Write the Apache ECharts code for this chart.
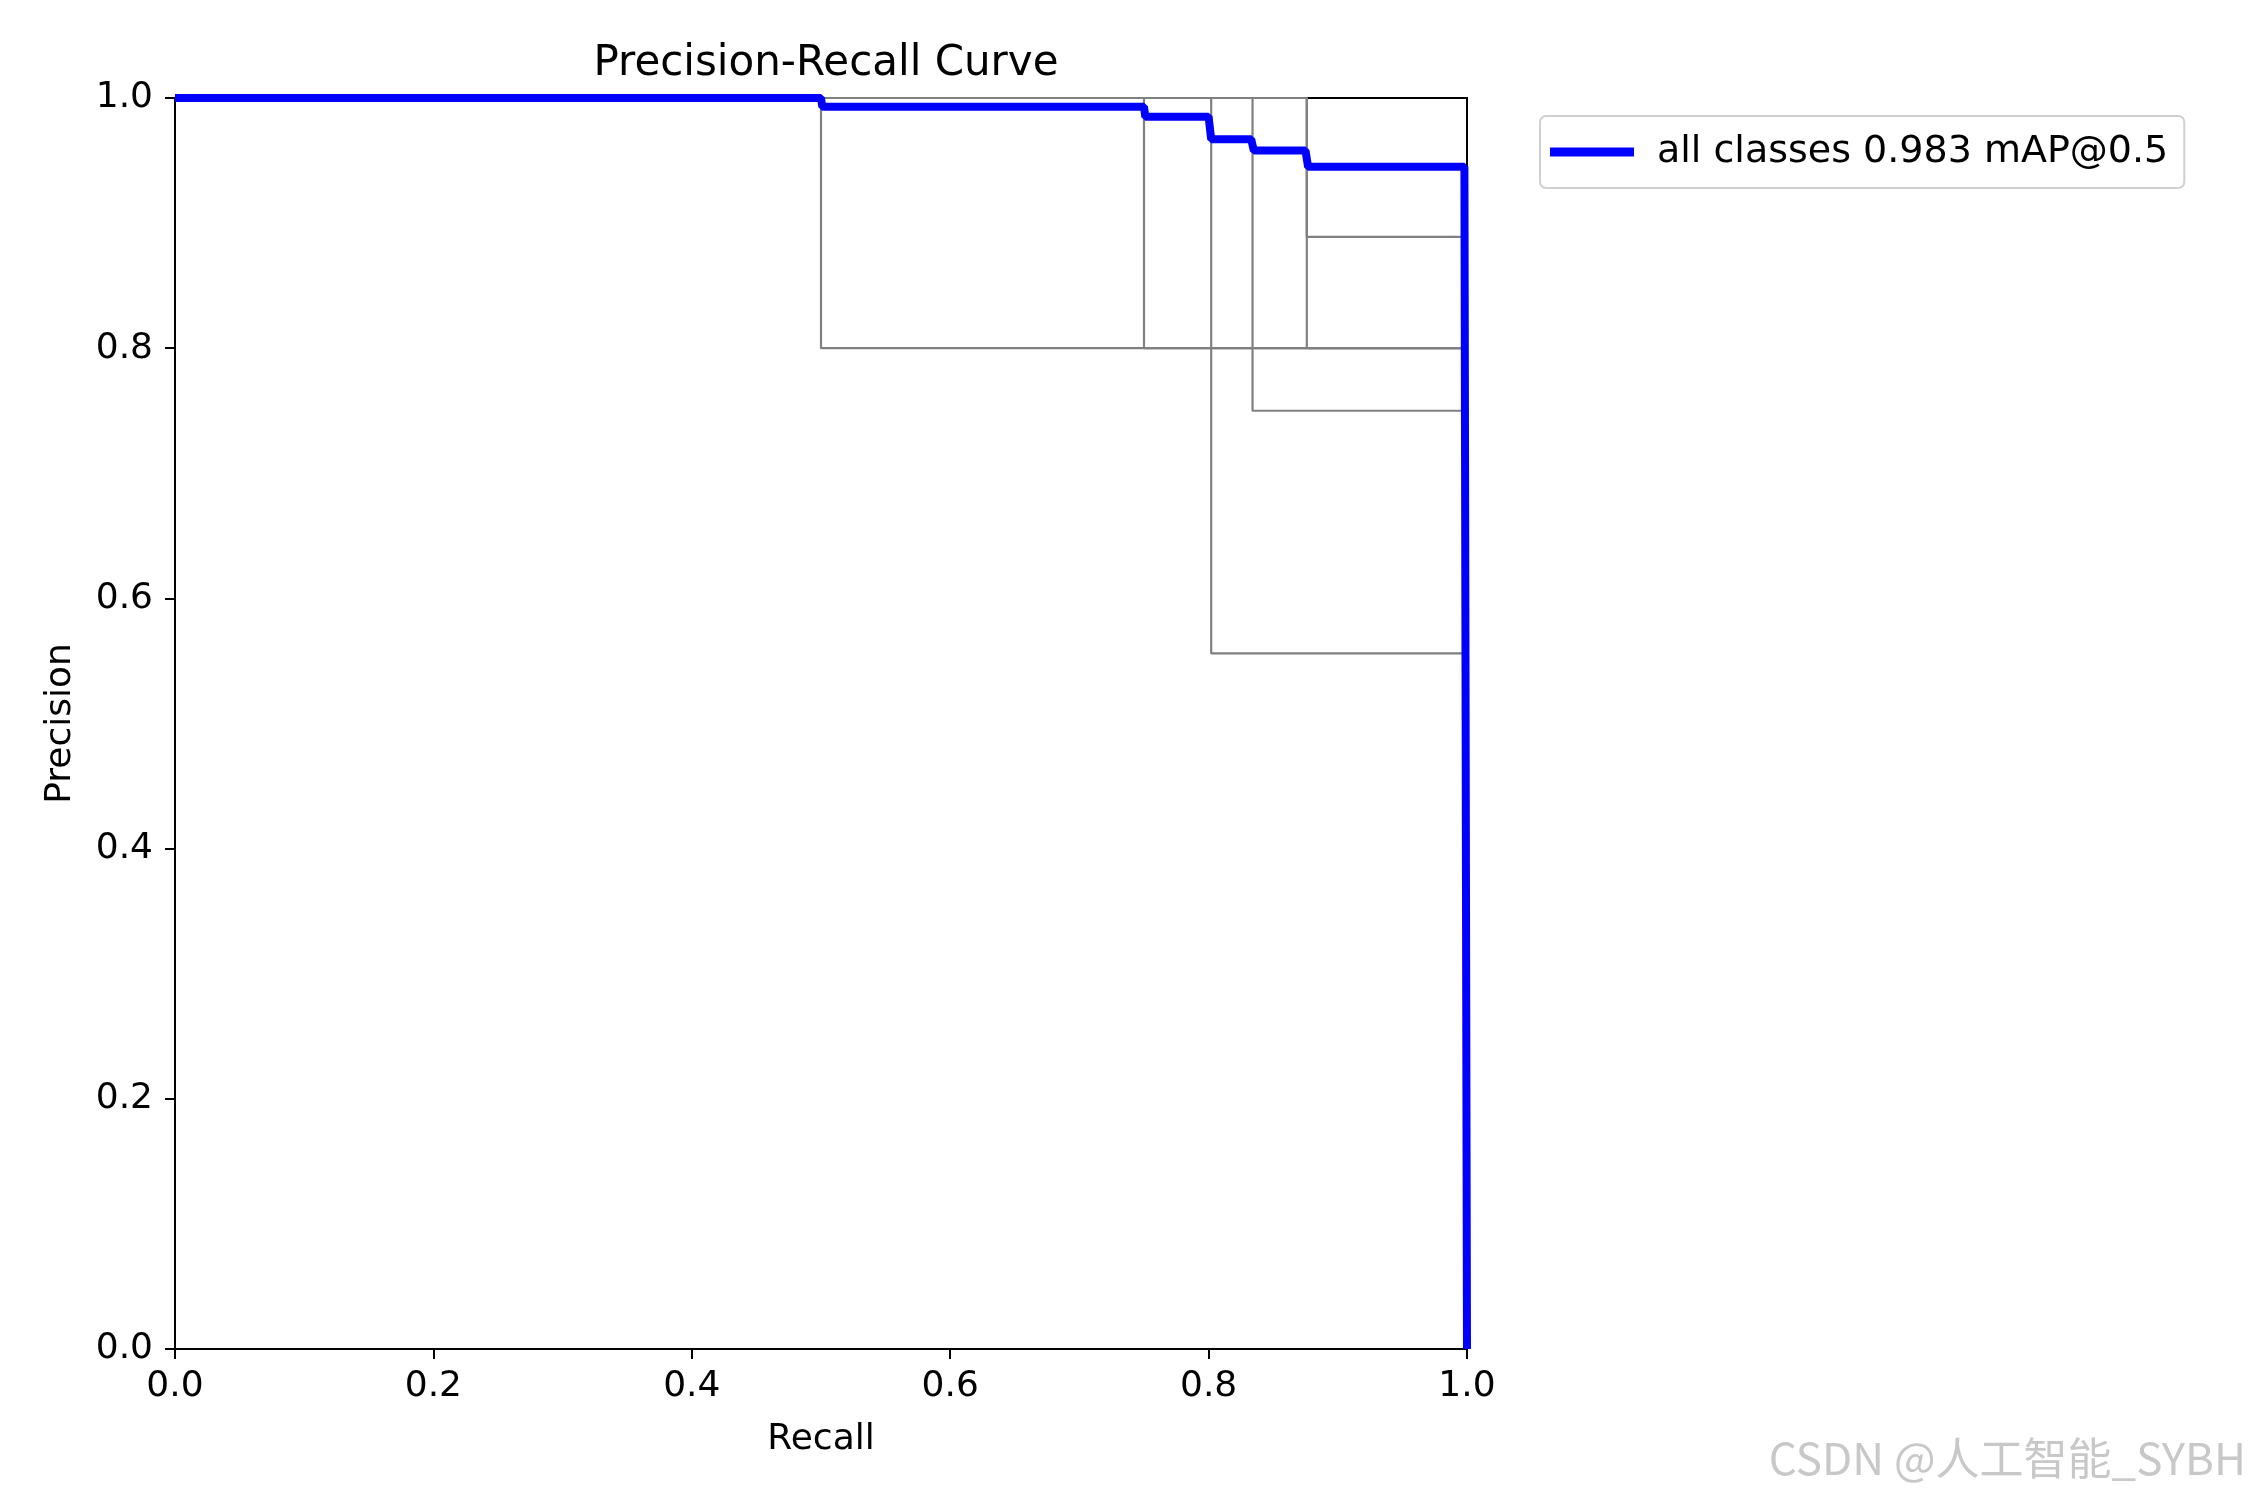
<!DOCTYPE html>
<html><head><meta charset="utf-8">
<script src="https://cdn.jsdelivr.net/npm/echarts@6/dist/echarts.min.js"></script>
<style>html,body{margin:0;padding:0;background:#fff}#c{width:2250px;height:1500px}</style>
</head><body><div id="c"></div>
<script>
// per-class: recall where precision drops, and precision after the drop
const classDropRecall = [0.5, 0.75, 0.802, 0.834, 0.876, 0.876];
const classDropPrecision = [0.8, 0.8, 0.556, 0.75, 0.889, 0.8];
// mean curve (all classes) step points [recall, precision]
const meanRecall =    [0, 0.5, 0.501, 0.75, 0.751, 0.8, 0.802, 0.833, 0.835, 0.875, 0.877, 0.998, 1.0];
const meanPrecision = [1, 1, 0.993, 0.993, 0.985, 0.985, 0.967, 0.967, 0.958, 0.958, 0.945, 0.945, 0];
const legendName = 'all classes 0.983 mAP@0.5';
const xTicks = [0, 0.2, 0.4, 0.6, 0.8, 1.0];

const series = [];
classDropRecall.forEach((r, i) => {
  const p = classDropPrecision[i];
  series.push({type:'line', name:'class'+i, data:[[0,1],[r,1],[r,p],[0.998,p],[0.998,0]],
    symbol:'none', lineStyle:{color:'#808080', width:2.2}, z:2, silent:true});
});
series.push({type:'line', name:legendName, data:meanRecall.map((r,i)=>[r,meanPrecision[i]]),
  symbol:'none', lineStyle:{color:'#0000ff', width:8}, itemStyle:{color:'#0000ff'}, z:5});

const font = 'DejaVu Sans';
const chart = echarts.init(document.getElementById('c'));
chart.setOption({
  animation:false,
  backgroundColor:'#fff',
  title:{text:'Precision-Recall Curve', left:821, top:38, textAlign:'center',
    textStyle:{fontFamily:font, fontSize:42, fontWeight:'normal', color:'#000'}},
  grid:{left:175, right:783, top:98, bottom:151, show:true, borderColor:'#000', borderWidth:2, containLabel:false},
  legend:{data:[legendName], left:1540, top:116, orient:'vertical', itemWidth:84, itemHeight:9, icon:'rect',
    itemGap:10, padding:[17,16,17,10], borderColor:'#d0d0d0', borderWidth:2, borderRadius:6,
    textStyle:{fontFamily:font, fontSize:38, color:'#000', padding:[0,0,0,18]}},
  xAxis:{type:'value', min:0, max:1, interval:0.2, name:'Recall', nameLocation:'middle', nameGap:73,
    nameTextStyle:{fontFamily:font, fontSize:36, color:'#000'},
    axisLine:{show:true, lineStyle:{color:'#000', width:2}}, axisTick:{show:true, length:10, lineStyle:{color:'#000', width:2}},
    axisLabel:{fontFamily:font, fontSize:36, color:'#000', margin:20, formatter:v=>v.toFixed(1)}, splitLine:{show:false}},
  yAxis:{type:'value', min:0, max:1, interval:0.2, name:'Precision', nameLocation:'middle', nameGap:96, nameRotate:90,
    nameTextStyle:{fontFamily:font, fontSize:36, color:'#000'},
    axisLine:{show:true, lineStyle:{color:'#000', width:2}}, axisTick:{show:true, length:10, lineStyle:{color:'#000', width:2}},
    axisLabel:{fontFamily:font, fontSize:36, color:'#000', margin:22, formatter:v=>v.toFixed(1)}, splitLine:{show:false}},
  graphic:[{type:'text', right:4, top:1436, style:{text:'CSDN @人工智能_SYBH', fill:'#c8c8c8',
    font:'44px "Noto Sans CJK SC"'}}],
  series
});
</script></body></html>
